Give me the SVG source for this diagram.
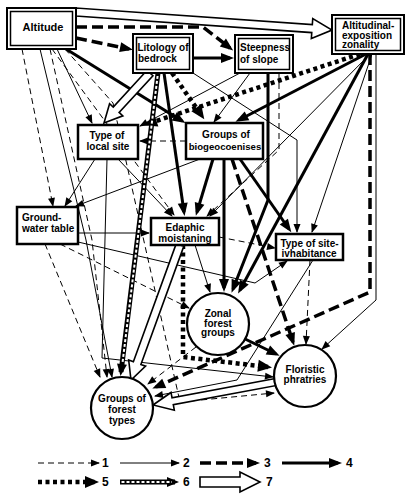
<svg xmlns="http://www.w3.org/2000/svg" width="412" height="500" viewBox="0 0 412 500">
<style>
.c{fill:none;stroke:#000;stroke-linejoin:miter}
.t1{stroke-width:1;stroke-dasharray:6 4}
.t2{stroke-width:1}
.t3{stroke-width:3.5;stroke-dasharray:11 5}
.t4{stroke-width:3}
.t5{stroke-width:4.5;stroke-dasharray:4 3.5}
.t6{stroke-width:5}
.t6w{fill:none;stroke:#fff;stroke-width:2;stroke-dasharray:3 2}
.h7{fill:#fff;stroke:#000;stroke-width:1.6}
.box{fill:#fff;stroke:#000;stroke-width:2.5}
.dbo{fill:#fff;stroke:#000;stroke-width:2}
.dbi{fill:none;stroke:#000;stroke-width:1.5}
.cir{fill:#fff;stroke:#000;stroke-width:2.2}
text{font-family:"Liberation Sans",Arial,sans-serif;font-weight:bold;font-size:10px;fill:#000}
.m{text-anchor:middle}
.lg{font-size:12px}
</style>
<defs>
<marker id="a1" markerUnits="userSpaceOnUse" markerWidth="9" markerHeight="7" refX="8" refY="3.5" orient="auto" overflow="visible"><path d="M0,0 L9,3.5 L0,7 z" fill="#000"/></marker>
<marker id="a3" markerUnits="userSpaceOnUse" markerWidth="13" markerHeight="10" refX="9" refY="5" orient="auto" overflow="visible"><path d="M0,0 L13,5 L0,10 z" fill="#000"/></marker>
<marker id="a5" markerUnits="userSpaceOnUse" markerWidth="14" markerHeight="12" refX="10" refY="6" orient="auto" overflow="visible"><path d="M0,0 L14,6 L0,12 z" fill="#000"/></marker>
<marker id="a6" markerUnits="userSpaceOnUse" markerWidth="12" markerHeight="10" refX="8" refY="5" orient="auto" overflow="visible"><path d="M0,0 L12,5 L0,10 z" fill="#000"/></marker>
</defs>

<g id="connectors">
<!-- type 1: thin dashed -->
<g class="c t1" marker-end="url(#a1)">
<path d="M22,49 L53,206"/>
<path d="M50,49 L92,240 L107,377"/>
<path d="M52,49 L174,215"/>
<path d="M65,49 L113,103 L180,402 L274,393"/>
<path d="M45,244 L100,377"/>
<path d="M60,244 L189,308"/>
<path d="M279,73 L279,150 L207,216"/>
<path d="M186,141 L140,141"/>
<path d="M219,237 L275,248"/>
<path d="M310,260 L306,344"/>
<path d="M196,347 L148,384"/>
</g>
<!-- type 2: thin solid -->
<g class="c t2" marker-end="url(#a1)">
<path d="M57,49 L92,123"/>
<path d="M40,49 L86,240 L112,377"/>
<path d="M240,73 L140,126"/>
<path d="M250,73 L214,122"/>
<path d="M193,73 L297,140 L297,232"/>
<path d="M370,54 L210,216"/>
<path d="M372,54 L312,232"/>
<path d="M376,54 L376,300 L322,349"/>
<path d="M200,159 L76,206"/>
<path d="M95,159 L65,206"/>
<path d="M118,159 L172,216"/>
<path d="M107,159 L102,358 L273,377"/>
<path d="M78,233 L149,233"/>
<path d="M78,242 L255,283 L287,261"/>
<path d="M195,245 L210,292"/>
<path d="M313,260 L237,380 L155,396"/>
</g>
<!-- type 3: thick dashed -->
<g class="c t3" marker-end="url(#a3)">
<path d="M76,27 L203,27 L230,48"/>
<path d="M76,38 L129,49"/>
<path d="M370,54 L370,292 L156,387"/>
<path d="M232,159 L293,342"/>
</g>
<!-- type 4: thick solid -->
<g class="c t4" marker-end="url(#a3)">
<path d="M66,49 L182,121"/>
<path d="M193,58 L230,58"/>
<path d="M164,73 L184,212"/>
<path d="M213,159 L197,212"/>
<path d="M224,159 L224,288"/>
<path d="M240,159 L289,229"/>
<path d="M366,54 L239,120"/>
<path d="M368,54 L240,290"/>
<path d="M268,73 L268,200 L233,289"/>
<path d="M243,338 L276,354"/>
</g>
<!-- type 5: dotted -->
<g class="c t5" marker-end="url(#a5)">
<path d="M172,73 L202,116"/>
<path d="M360,54 L147,124"/>
<path d="M183,245 L183,357 L268,367"/>
</g>
<!-- type 6: hatched -->
<path class="c t6" d="M158,73 L121,372" marker-end="url(#a6)"/>
<path class="t6w" d="M157.6,76 L122.6,362"/>
<!-- type 7: hollow -->
<polygon class="h7" points="75.72,15.99 311.77,32.59 311.35,38.58 332,30 312.75,18.62 312.33,24.61 76.28,8.01"/>
<polygon class="h7" points="147.06,70.29 113.25,107.04 109.57,103.66 104,123 122.81,115.84 119.13,112.46 152.94,75.71"/>
<polygon class="h7" points="176.24,243.64 133.38,361.72 128.68,360.01 131,380 145.60,366.15 140.90,364.44 183.76,246.36"/>
<polygon class="h7" points="275.36,378.56 172.02,397.88 171.01,392.47 153,405 174.31,410.17 173.30,404.76 276.64,385.44"/>
</g>

<g id="altitude">
<rect class="dbo" x="7" y="8" width="69" height="41"/>
<rect class="dbi" x="10.5" y="11.5" width="62" height="34"/>
<text class="m" x="43" y="31" style="font-size:11px">Altitude</text>
</g>
<g id="litology">
<rect class="dbo" x="133" y="34" width="60" height="39"/>
<rect class="dbi" x="136.5" y="37.5" width="53" height="32"/>
<text class="m" x="163" y="51">Litology of</text>
<text x="138" y="62">bedrock</text>
</g>
<g id="steepness">
<rect class="dbo" x="235" y="35" width="58" height="38"/>
<rect class="dbi" x="238.5" y="38.5" width="51" height="31"/>
<text x="240" y="51">Steepness</text>
<text x="240" y="63">of slope</text>
</g>
<g id="zonality">
<rect class="dbo" x="332" y="15" width="72" height="39"/>
<rect class="dbi" x="335.5" y="18.5" width="65" height="32"/>
<text x="342" y="29">Altitudinal-</text>
<text x="342" y="38.5">exposition</text>
<text x="342" y="48">zonality</text>
</g>
<g id="type-local-site">
<rect class="box" x="78" y="125" width="60" height="34"/>
<text class="m" x="107" y="139">Type of</text>
<text class="m" x="108" y="150">local site</text>
</g>
<g id="groups-biogeocoenises">
<rect class="box" x="186" y="123" width="77" height="36"/>
<text class="m" x="226" y="138">Groups of</text>
<text class="m" x="225" y="149.5" style="font-size:9.6px">biogeocoenises</text>
</g>
<g id="ground-water-table">
<rect class="box" x="17" y="207" width="61" height="37"/>
<text x="22" y="221">Ground-</text>
<text x="22" y="232">water table</text>
</g>
<g id="edaphic-moistaning">
<rect class="box" x="151" y="218" width="68" height="27"/>
<text class="m" x="185" y="231">Edaphic</text>
<text class="m" x="185" y="241.5">moistaning</text>
</g>
<g id="type-site-ivhabitance">
<rect class="box" x="276" y="234" width="67" height="26"/>
<text class="m" x="309.5" y="247">Type of site-</text>
<text class="m" x="309" y="257">ivhabitance</text>
</g>
<g id="zonal-forest-groups">
<circle class="cir" cx="218" cy="324" r="31"/>
<text class="m" x="218" y="317">Zonal</text>
<text class="m" x="218" y="326.5">forest</text>
<text class="m" x="218" y="336">groups</text>
</g>
<g id="floristic-phratries">
<circle class="cir" cx="305" cy="376" r="31"/>
<text class="m" x="305" y="373">Floristic</text>
<text class="m" x="305" y="382.5">phratries</text>
</g>
<g id="groups-forest-types">
<circle class="cir" cx="122" cy="408" r="31"/>
<text class="m" x="122" y="402">Groups of</text>
<text class="m" x="122" y="413">forest</text>
<text class="m" x="122" y="424">types</text>
</g>

<g id="legend">
<path class="c t1" d="M38,463 L99,463" marker-end="url(#a1)"/>
<text class="lg" x="102" y="467">1</text>
<path class="c t2" d="M120,463 L179,463" marker-end="url(#a1)"/>
<text class="lg" x="183" y="467">2</text>
<path class="c t3" d="M200,463 L256,463" marker-end="url(#a3)"/>
<text class="lg" x="264" y="467">3</text>
<path class="c t4" d="M282,463 L338,463" marker-end="url(#a3)"/>
<text class="lg" x="346" y="467">4</text>
<path class="c t5" d="M38,482 L95,482" marker-end="url(#a5)"/>
<text class="lg" x="102" y="486">5</text>
<path class="c t6" d="M120,482 L175,482" marker-end="url(#a6)"/>
<path class="t6w" d="M121.5,482 L172,482"/>
<text class="lg" x="183" y="486">6</text>
<polygon class="h7" points="200,477 240,477 240,472 260,482 240,492 240,487 200,487"/>
<text class="lg" x="266" y="486">7</text>
</g>
</svg>
